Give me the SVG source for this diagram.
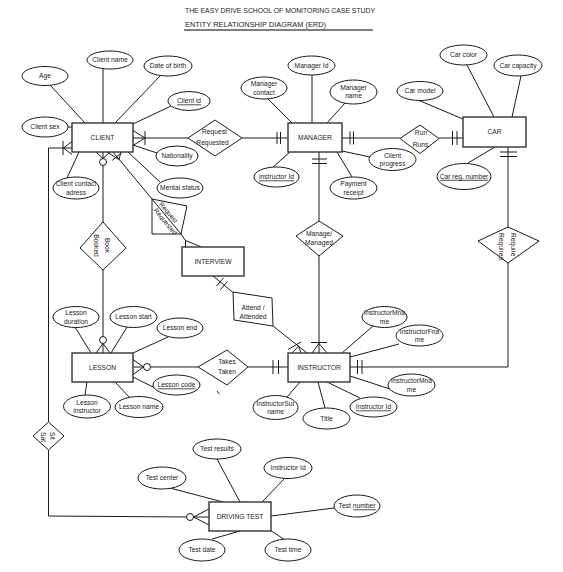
<svg xmlns="http://www.w3.org/2000/svg" width="563" height="572" viewBox="0 0 563 572">
<style>
text{font-family:"Liberation Sans",Arial,sans-serif;font-size:6.7px;fill:#222;text-anchor:middle}
.e{fill:#fff;stroke:#1a1a1a;stroke-width:1}
.b{fill:#fff;stroke:#333;stroke-width:1.4}
.r{fill:#fff;stroke:#1a1a1a;stroke-width:1}
.l{fill:none;stroke:#1a1a1a;stroke-width:1}
.c{fill:#fff;stroke:#1a1a1a;stroke-width:1}
.u{stroke:#222;stroke-width:0.8}
.s{text-anchor:start}
</style>
<rect width="563" height="572" fill="#fff"/>
<g id="title">
<text class="s" x="185" y="13.4" font-size="7" textLength="190" lengthAdjust="spacingAndGlyphs">THE EASY DRIVE SCHOOL OF MONITORING CASE STUDY</text>
<text class="s" x="185" y="27.4" font-size="7" textLength="141" lengthAdjust="spacingAndGlyphs">ENTITY RELATIONSHIP DIAGRAM (ERD)</text>
<line x1="184" y1="30" x2="373" y2="30" stroke="#555" stroke-width="1.3"/>
</g>
<g id="connectors">
<path class="l" d="M50 85L85 123M103 69V123M161 75L115 123M171 106L133 124M68 127H72M157 153L133 145M160 182L128 152M67 178L79 152"/>
<path class="l" d="M268 99L292 123M312 75V123M345 103L327 123M370 157L342 151M352 177L337 152M273 167L290 152"/>
<path class="l" d="M467 65L494 117M521 76L512 117M418 100L463 119M468 163L495 147"/>
<path class="l" d="M75 327L91 353M127 327L111 353M168 337L133 353M133 377L155 388M85 395L87 382M130 398L115 382"/>
<path class="l" d="M373 326L342 353M350 357L399 344M350 376L390 389M327 382L360 398M318 382L325 408M300 382L287 397"/>
<path class="l" d="M217 459L240 502M285 478L262 502M170 488L223 502M334 508L271 516M212 539L240 531M285 540L270 530"/>
<path class="l" d="M133 138H188M242 138H288M133 130.5L145 138L133 145.5M145 131V145M277 132V144M280.5 132V144"/>
<path class="l" d="M342 138H400M439 138H463M350 131.5V144.5M353.5 131.5V144.5M452.5 131V145M457 131V145"/>
<path class="l" d="M319 152V221M319 256V353M312 159H327M312 163.5H327M311 342.5H327M312 353L319 343.5L327 353"/>
<path class="l" d="M508 147V227M508 263V367H350M500 152H517M500 156.5H517M357.5 360V374M362 360V374"/>
<path class="l" d="M133 367H143.5M150.5 367H198M248 367H288M133 359.5L143.5 367L133 374.5M273 360V374M278.5 360V374"/>
<circle class="c" cx="147" cy="367" r="3.5"/>
<path class="l" d="M103 152V158.5M103 165.5V222M103 270V336.5M103 343.5V353M96 152L103 158.5L110 152M96 353L103 343.5L110 353"/>
<circle class="c" cx="103" cy="162" r="3.5"/>
<circle class="c" cx="103" cy="340" r="3.5"/>
<path class="l" d="M113 152L152 199M181 234L185.5 240.5V247M185.5 240.5L201.5 247M107 152L119 159.5L121 152M112.2 160.4L121.4 152.8"/>
<path class="l" d="M213 276L233 292.5M216.4 286.2L223.6 277.8M220.4 289.7L227.6 281.3M273 326L307 353M288 349.5L301 342M292 353L298.5 346.2L301 353"/>
<path class="l" d="M72 148H48.5V422M48.5 450V516L186.5 517M63 141V155M72 141.5L63.5 148L72 154.5M209 509L193.5 517L209 525M193.5 517H209"/>
<circle class="c" cx="190" cy="517" r="3.5"/>
<path class="l" d="M217 391L219.5 394"/>
</g>
<g id="client"><rect class="b" x="72" y="123" width="61" height="29"/><text x="102.5" y="140">CLIENT</text></g>
<g id="manager"><rect class="b" x="288" y="123" width="54" height="29"/><text x="315" y="140">MANAGER</text></g>
<g id="car"><rect class="b" x="463" y="117" width="63" height="30"/><text x="494.5" y="134.4">CAR</text></g>
<g id="interview"><rect class="b" x="182" y="247" width="62" height="29"/><text x="213" y="264">INTERVIEW</text></g>
<g id="lesson"><rect class="b" x="72" y="353" width="61" height="29"/><text x="102.5" y="370">LESSON</text></g>
<g id="instructor"><rect class="b" x="288" y="353" width="62" height="29"/><text x="319" y="370">INSTRUCTOR</text></g>
<g id="driving-test"><rect class="b" x="209" y="502" width="62" height="29"/><text x="240" y="519">DRIVING TEST</text></g>
<g id="rel-request-manager"><path class="r" d="M188 138L215 120L242 138L215 156Z"/><text x="214.5" y="133.5">Request</text><text x="212.5" y="144.5">Requested</text></g>
<g id="rel-run"><path class="r" d="M400 138.5L420 125L439 138.5L420 153.5Z"/><text x="421" y="134.5">Run</text><text x="420.5" y="146.5">Runs</text></g>
<g id="rel-manage"><path class="r" d="M296 236L319 221L343 236L319 256Z"/><text x="319" y="235.5">Manage/</text><text x="319" y="244.5">Managed</text></g>
<g id="rel-require"><path class="r" d="M478 241L508 227L539 241L508 263Z"/><text class="s" transform="translate(511 233) rotate(90)">Require</text><text class="s" transform="translate(498.5 233) rotate(90)">Required</text></g>
<g id="rel-book"><path class="r" d="M80 248L103 222L126 248L103 270Z"/><text transform="translate(104.5 245.5) rotate(90)">Book</text><text transform="translate(94.3 245.5) rotate(90)">Booked</text></g>
<g id="rel-takes"><path class="r" d="M198 367L227 350L248 367L227 385Z"/><text x="227" y="364">Takes</text><text x="227" y="374">Taken</text></g>
<g id="rel-sit"><path class="r" d="M33 436L48.5 422L64 436L48.5 450Z"/><text class="s" transform="translate(40.5 432) rotate(90)">Sat</text><text class="s" transform="translate(50.3 432) rotate(90)">Sit</text></g>
<g id="rel-attend"><path class="r" d="M233 292L272 298L273 326L234 320Z"/><text x="253" y="310">Attend /</text><text x="253" y="318.5">Attended</text></g>
<g id="rel-request-interview"><path class="r" d="M152 199L187 206L181 234L152 234Z"/><line class="l" x1="152" y1="199" x2="181" y2="234"/><text transform="translate(166.7 214) rotate(50)">Request</text><text transform="translate(163.7 223) rotate(50)">Requested</text></g>
<g id="attr-age"><ellipse class="e" cx="45" cy="76" rx="23" ry="9.5"/><text x="45" y="78.4">Age</text></g>
<g id="attr-client-name"><ellipse class="e" cx="110" cy="60" rx="23" ry="9"/><text x="110" y="62.4">Client name</text></g>
<g id="attr-dob"><ellipse class="e" cx="168" cy="66" rx="24" ry="10"/><text x="168" y="68.4">Date of birth</text></g>
<g id="attr-client-id"><ellipse class="e" cx="189" cy="101" rx="21" ry="9.5"/><text x="189" y="103.4">Client id</text><line class="u" x1="177" y1="104.8" x2="201" y2="104.8"/></g>
<g id="attr-client-sex"><ellipse class="e" cx="45" cy="127" rx="23" ry="10"/><text x="45" y="129.4">Client sex</text></g>
<g id="attr-nationality"><ellipse class="e" cx="177" cy="156" rx="21" ry="10"/><text x="177" y="158.4">Nationality</text></g>
<g id="attr-mental"><ellipse class="e" cx="180" cy="188" rx="23" ry="10"/><text x="180" y="190.4">Mental status</text></g>
<g id="attr-contact"><ellipse class="e" cx="76" cy="188" rx="23" ry="11"/><text x="76" y="186.2">Client contact</text><text x="76" y="194.6">adress</text></g>
<g id="attr-manager-contact"><ellipse class="e" cx="264" cy="88" rx="23" ry="11"/><text x="264" y="86.2">Manager</text><text x="264" y="94.6">contact</text></g>
<g id="attr-manager-id"><ellipse class="e" cx="311.5" cy="65.5" rx="23.5" ry="9.5"/><text x="311.5" y="67.9">Manager Id</text></g>
<g id="attr-manager-name"><ellipse class="e" cx="353.5" cy="92" rx="23.5" ry="12"/><text x="353.5" y="89.6">Manager</text><text x="353.5" y="98">name</text></g>
<g id="attr-client-progress"><ellipse class="e" cx="392.5" cy="159.5" rx="23.5" ry="11"/><text x="392.5" y="157.7">Client</text><text x="392.5" y="166.1">progress</text></g>
<g id="attr-payment"><ellipse class="e" cx="353.5" cy="188" rx="23.5" ry="11"/><text x="353.5" y="186.2">Payment</text><text x="353.5" y="194.6">receipt</text></g>
<g id="attr-mgr-instructor-id"><ellipse class="e" cx="276.5" cy="177" rx="22.5" ry="10"/><text x="276.5" y="179.4">instructor Id</text><line class="u" x1="259" y1="180.8" x2="294" y2="180.8"/></g>
<g id="attr-car-color"><ellipse class="e" cx="463.5" cy="55" rx="23.5" ry="10"/><text x="463.5" y="57.4">Car color</text></g>
<g id="attr-car-capacity"><ellipse class="e" cx="518" cy="65.5" rx="24" ry="10.5"/><text x="518" y="67.9">Car capacity</text></g>
<g id="attr-car-model"><ellipse class="e" cx="420" cy="91" rx="23" ry="9.5"/><text x="420" y="93.4">Car model</text></g>
<g id="attr-car-reg"><ellipse class="e" cx="464" cy="176.5" rx="27" ry="13"/><text x="464" y="178.9">Car reg. number</text><line class="u" x1="440" y1="180.3" x2="488" y2="180.3"/></g>
<g id="attr-lesson-duration"><ellipse class="e" cx="76" cy="317" rx="23" ry="10.5"/><text x="76" y="315.2">Lesson</text><text x="76" y="323.6">duration</text></g>
<g id="attr-lesson-start"><ellipse class="e" cx="133.5" cy="317" rx="23.5" ry="10.5"/><text x="133.5" y="319.4">Lesson start</text></g>
<g id="attr-lesson-end"><ellipse class="e" cx="180" cy="328" rx="23" ry="10"/><text x="180" y="330.4">Lesson end</text></g>
<g id="attr-lesson-code"><ellipse class="e" cx="176.5" cy="385" rx="23.5" ry="10"/><text x="176.5" y="387.4">Lesson code</text><line class="u" x1="157.5" y1="388.8" x2="195.5" y2="388.8"/></g>
<g id="attr-lesson-instructor"><ellipse class="e" cx="87" cy="406.5" rx="23.5" ry="11.5"/><text x="87" y="404.7">Lesson</text><text x="87" y="413.1">instructor</text></g>
<g id="attr-lesson-name"><ellipse class="e" cx="139" cy="407" rx="24" ry="10.5"/><text x="139" y="409.4">Lesson name</text></g>
<g id="attr-instr-mname1"><ellipse class="e" cx="384.5" cy="317" rx="22.5" ry="10.5"/><text x="384.5" y="315.2">InstructorMna</text><text x="384.5" y="323.6">me</text></g>
<g id="attr-instr-fname"><ellipse class="e" cx="419.5" cy="335.5" rx="23.5" ry="10.5"/><text x="419.5" y="333.7">InstructorFna</text><text x="419.5" y="342.1">me</text></g>
<g id="attr-instr-mname2"><ellipse class="e" cx="411.5" cy="385" rx="23.5" ry="11"/><text x="411.5" y="383.2">InstructorMna</text><text x="411.5" y="391.6">me</text></g>
<g id="attr-instr-id"><ellipse class="e" cx="373.5" cy="407" rx="23.5" ry="10"/><text x="373.5" y="409.4">Instructor Id</text><line class="u" x1="356" y1="410.8" x2="391" y2="410.8"/></g>
<g id="attr-title"><ellipse class="e" cx="326.5" cy="418.5" rx="23.5" ry="10.5"/><text x="326.5" y="420.9">Title</text></g>
<g id="attr-instr-surname"><ellipse class="e" cx="275.5" cy="407.5" rx="22.5" ry="12"/><text x="275.5" y="405.7">InstructorSur</text><text x="275.5" y="414.1">name</text></g>
<g id="attr-test-results"><ellipse class="e" cx="217" cy="449" rx="24" ry="10"/><text x="217" y="451.4">Test results</text></g>
<g id="attr-test-instructor-id"><ellipse class="e" cx="288" cy="468" rx="24" ry="10.5"/><text x="288" y="470.4">Instructor Id</text></g>
<g id="attr-test-center"><ellipse class="e" cx="162" cy="478" rx="24" ry="11"/><text x="162" y="480.4">Test center</text></g>
<g id="attr-test-number"><ellipse class="e" cx="357" cy="506" rx="23" ry="11"/><text x="357" y="508.4">Test number</text><line class="u" x1="353" y1="509.8" x2="376" y2="509.8"/></g>
<g id="attr-test-date"><ellipse class="e" cx="202" cy="550" rx="23" ry="11"/><text x="202" y="552.4">Test date</text></g>
<g id="attr-test-time"><ellipse class="e" cx="288" cy="550" rx="23" ry="11"/><text x="288" y="552.4">Test time</text></g>
</svg>
